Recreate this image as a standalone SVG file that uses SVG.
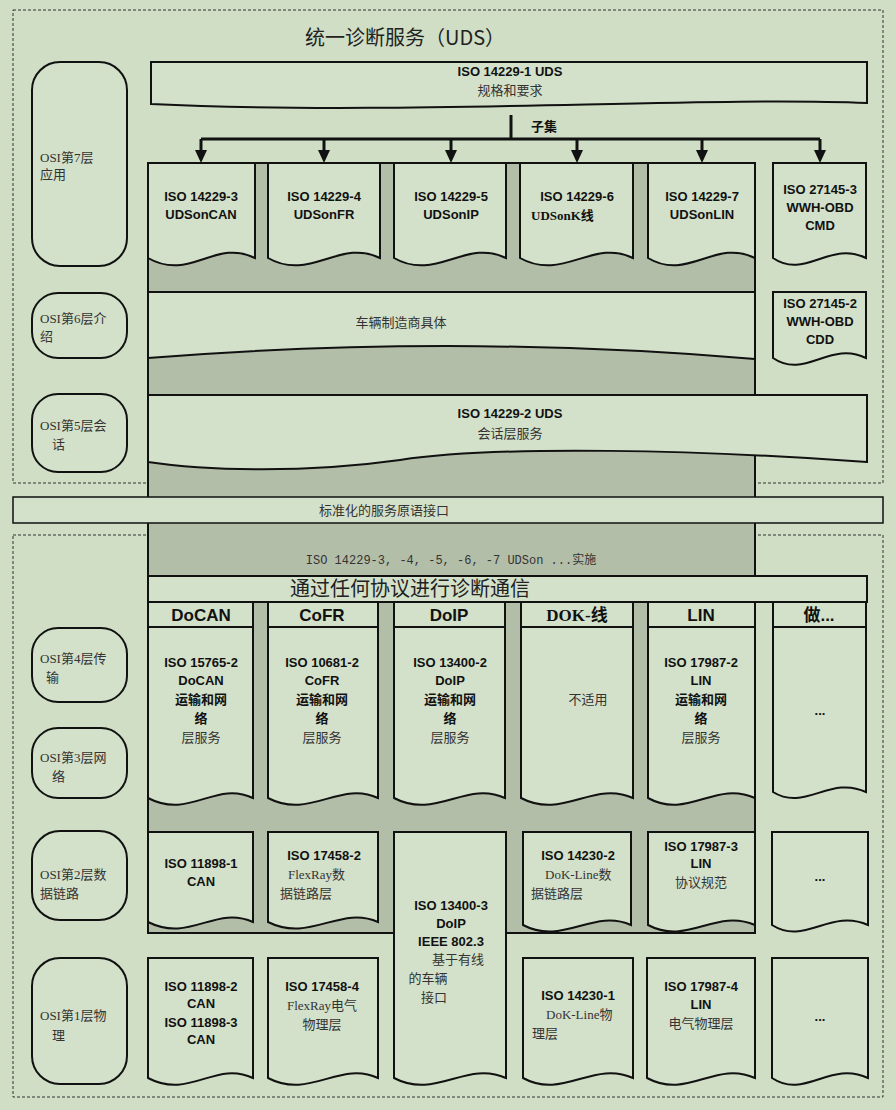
<svg xmlns="http://www.w3.org/2000/svg" width="896" height="1110" viewBox="0 0 896 1110">
<style>
.bg{fill:#cfdec5}
.band{fill:#b3bea8;stroke:#111;stroke-width:2}
.box{fill:#d3e1ca;stroke:#111;stroke-width:2}
.dash{fill:none;stroke:#333;stroke-width:1;stroke-dasharray:3,2}
.osi{fill:#d3e1ca;stroke:#111;stroke-width:2}
.b{font-family:"Liberation Sans","Noto Sans CJK SC",sans-serif;font-weight:bold;font-size:13px;fill:#111;text-anchor:middle}
.n{font-family:"Liberation Sans","Noto Sans CJK SC",sans-serif;font-size:13px;fill:#333;text-anchor:middle}
.s{font-family:"Liberation Serif","Noto Sans CJK SC",serif;font-size:13px;fill:#333}
.h{font-family:"Liberation Sans","Noto Sans CJK SC",sans-serif;font-weight:bold;font-size:17px;fill:#111;text-anchor:middle}
.conn{stroke:#111;stroke-width:3;fill:none}
.ah{fill:#111}
</style>
<rect class="bg" x="0" y="0" width="896" height="1110"/>
<rect class="dash" x="13" y="10" width="870" height="473"/>
<rect class="dash" x="13" y="535" width="870" height="562"/>
<rect class="band" x="148" y="163" width="607" height="770"/>

<text x="305" y="45" style="font-family:'Noto Sans CJK SC',sans-serif;font-size:20px;fill:#222">统一诊断服务（UDS）</text>

<g id="uds1"><path class="box" d="M151,62 H867 V103 C700,96 400,116 151,104 Z"/><text class="b" x="510" y="76">ISO 14229-1 UDS</text><text class="n" x="510" y="95">规格和要求</text></g>

<g id="connectors">
<path class="conn" d="M511,115 V139"/>
<path class="conn" d="M201,139 H820"/>
<path class="conn" d="M201,139 V152"/><polygon class="ah" points="195,150 207,150 201,163"/>
<path class="conn" d="M324,139 V152"/><polygon class="ah" points="318,150 330,150 324,163"/>
<path class="conn" d="M451,139 V152"/><polygon class="ah" points="445,150 457,150 451,163"/>
<path class="conn" d="M577,139 V152"/><polygon class="ah" points="571,150 583,150 577,163"/>
<path class="conn" d="M702,139 V152"/><polygon class="ah" points="696,150 708,150 702,163"/>
<path class="conn" d="M820,139 V152"/><polygon class="ah" points="814,150 826,150 820,163"/>
</g>
<text class="b" x="544" y="131">子集</text>

<g id="osi7"><rect class="osi" x="32" y="62" width="95" height="204" rx="28"/><text class="s" x="40" y="162">OSI第7层</text><text class="s" x="40" y="179">应用</text></g>
<g id="osi6"><rect class="osi" x="32" y="293" width="95" height="65" rx="26"/><text class="s" x="40" y="323">OSI第6层介</text><text class="s" x="40" y="341">绍</text></g>
<g id="osi5"><rect class="osi" x="32" y="394" width="95" height="78" rx="26"/><text class="s" x="40" y="430">OSI第5层会</text><text class="s" x="52" y="449">话</text></g>
<g id="osi4"><rect class="osi" x="32" y="628" width="95" height="74" rx="26"/><text class="s" x="40" y="663">OSI第4层传</text><text class="s" x="46" y="682">输</text></g>
<g id="osi3"><rect class="osi" x="32" y="728" width="95" height="70" rx="26"/><text class="s" x="40" y="762">OSI第3层网</text><text class="s" x="52" y="781">络</text></g>
<g id="osi2"><rect class="osi" x="32" y="831" width="95" height="89" rx="28"/><text class="s" x="40" y="879">OSI第2层数</text><text class="s" x="40" y="898">据链路</text></g>
<g id="osi1"><rect class="osi" x="32" y="958" width="95" height="126" rx="28"/><text class="s" x="40" y="1020">OSI第1层物</text><text class="s" x="52" y="1040">理</text></g>

<g id="d73"><path class="box" d="M148,163 H255 V258 C215,238 190,282 148,258 Z"/><text class="b" x="201" y="201">ISO 14229-3</text><text class="b" x="201" y="219">UDSonCAN</text></g>
<g id="d74"><path class="box" d="M268,163 H380 V258 C340,238 310,282 268,258 Z"/><text class="b" x="324" y="201">ISO 14229-4</text><text class="b" x="324" y="219">UDSonFR</text></g>
<g id="d75"><path class="box" d="M394,163 H506 V258 C466,238 436,282 394,258 Z"/><text class="b" x="451" y="201">ISO 14229-5</text><text class="b" x="451" y="219">UDSonIP</text></g>
<g id="d76"><path class="box" d="M520,163 H633 V258 C593,238 563,282 520,258 Z"/><text class="b" x="577" y="201">ISO 14229-6</text><text class="b" x="531" y="220" style="text-anchor:start;font-family:'Liberation Serif','Noto Sans CJK SC',serif">UDSonK线</text></g>
<g id="d77"><path class="box" d="M648,163 H755 V258 C715,238 688,282 648,258 Z"/><text class="b" x="702" y="201">ISO 14229-7</text><text class="b" x="702" y="219">UDSonLIN</text></g>
<g id="d273"><path class="box" d="M773,163 H866 V258 C830,240 805,280 773,258 Z"/><text class="b" x="820" y="194">ISO 27145-3</text><text class="b" x="820" y="212">WWH-OBD</text><text class="b" x="820" y="230">CMD</text></g>
<g id="d272"><path class="box" d="M773,292 H866 V358 C830,340 805,380 773,358 Z"/><text class="b" x="820" y="308">ISO 27145-2</text><text class="b" x="820" y="326">WWH-OBD</text><text class="b" x="820" y="344">CDD</text></g>

<g id="l6"><path class="box" d="M148,292 H755 V359 C600,346 400,338 148,358 Z"/><text class="n" x="401" y="327">车辆制造商具体</text></g>
<g id="l5"><path class="box" d="M148,395 H867 V462 C700,450 500,445 400,460 C300,474 200,470 148,462 Z"/><text class="b" x="510" y="418">ISO 14229-2 UDS</text><text class="n" x="510" y="438">会话层服务</text></g>

<g id="iface"><rect class="box" x="13" y="497" width="870" height="26" style="stroke-width:1.5"/><text class="n" x="384" y="515">标准化的服务原语接口</text></g>

<text x="451" y="564" style="font-family:'Liberation Mono','Noto Sans CJK SC',monospace;font-size:12px;fill:#333;text-anchor:middle">ISO 14229-3, -4, -5, -6, -7 UDSon ...实施</text>

<g id="anyproto"><rect class="box" x="148" y="576" width="719" height="26"/><text x="410" y="596" style="font-family:'Noto Sans CJK SC',sans-serif;font-size:20px;fill:#222;text-anchor:middle">通过任何协议进行诊断通信</text></g>

<g id="hDoCAN"><rect class="box" x="148" y="602" width="105" height="25"/><text class="h" x="201" y="621">DoCAN</text></g>
<g id="hCoFR"><rect class="box" x="268" y="602" width="110" height="25"/><text class="h" x="322" y="621">CoFR</text></g>
<g id="hDoIP"><rect class="box" x="394" y="602" width="111" height="25"/><text class="h" x="449" y="621">DoIP</text></g>
<g id="hDOK"><rect class="box" x="521" y="602" width="112" height="25"/><text class="h" x="577" y="621" style="font-family:'Liberation Serif','Noto Sans CJK SC',serif">DOK-线</text></g>
<g id="hLIN"><rect class="box" x="648" y="602" width="107" height="25"/><text class="h" x="701" y="621">LIN</text></g>
<g id="hDo"><rect class="box" x="773" y="602" width="93" height="25"/><text class="h" x="819" y="621">做...</text></g>

<g id="t1"><path class="box" d="M148,627 H253 V798 C215,780 190,820 148,798 Z"/><text class="b" x="201" y="667">ISO 15765-2</text><text class="b" x="201" y="685">DoCAN</text><text class="b" x="201" y="704">运输和网</text><text class="b" x="201" y="723">络</text><text class="n" x="201" y="742">层服务</text></g>
<g id="t2"><path class="box" d="M268,627 H378 V798 C340,780 310,820 268,798 Z"/><text class="b" x="322" y="667">ISO 10681-2</text><text class="b" x="322" y="685">CoFR</text><text class="b" x="322" y="704">运输和网</text><text class="b" x="322" y="723">络</text><text class="n" x="322" y="742">层服务</text></g>
<g id="t3"><path class="box" d="M394,627 H505 V798 C466,780 436,820 394,798 Z"/><text class="b" x="450" y="667">ISO 13400-2</text><text class="b" x="450" y="685">DoIP</text><text class="b" x="450" y="704">运输和网</text><text class="b" x="450" y="723">络</text><text class="n" x="450" y="742">层服务</text></g>
<g id="t4"><path class="box" d="M521,627 H633 V798 C593,780 563,820 521,798 Z"/><text class="n" x="588" y="704">不适用</text></g>
<g id="t5"><path class="box" d="M648,627 H755 V798 C715,780 688,820 648,798 Z"/><text class="b" x="701" y="667">ISO 17987-2</text><text class="b" x="701" y="685">LIN</text><text class="b" x="701" y="704">运输和网</text><text class="b" x="701" y="723">络</text><text class="n" x="701" y="742">层服务</text></g>
<g id="t6"><path class="box" d="M773,627 H866 V792 C830,775 805,812 773,792 Z"/><text class="b" x="820" y="715">...</text></g>

<g id="k1"><path class="box" d="M148,832 H253 V922 C215,905 190,943 148,922 Z"/><text class="b" x="201" y="868">ISO 11898-1</text><text class="b" x="201" y="886">CAN</text></g>
<g id="k2"><path class="box" d="M268,832 H378 V922 C340,905 310,943 268,922 Z"/><text class="b" x="324" y="860">ISO 17458-2</text><text class="s" x="288" y="879">FlexRay数</text><text class="n" x="306" y="898">据链路层</text></g>
<g id="k3"><path class="box" d="M394,832 H506 V1078 C466,1060 436,1100 394,1078 Z"/><text class="b" x="451" y="910">ISO 13400-3</text><text class="b" x="451" y="928">DoIP</text><text class="b" x="451" y="946">IEEE 802.3</text><text class="n" x="458" y="964">基于有线</text><text class="n" x="428" y="983">的车辆</text><text class="n" x="434" y="1002">接口</text></g>
<g id="k4"><path class="box" d="M523,832 H631 V925 C593,908 563,946 523,925 Z"/><text class="b" x="578" y="860">ISO 14230-2</text><text class="s" x="545" y="879">DoK-Line数</text><text class="n" x="557" y="898">据链路层</text></g>
<g id="k5"><path class="box" d="M648,832 H755 V925 C715,908 688,946 648,925 Z"/><text class="b" x="701" y="851">ISO 17987-3</text><text class="b" x="701" y="868">LIN</text><text class="n" x="701" y="887">协议规范</text></g>
<g id="k6"><path class="box" d="M772,832 H868 V925 C830,908 805,946 772,925 Z"/><text class="b" x="820" y="881">...</text></g>

<g id="p1"><path class="box" d="M148,958 H253 V1078 C215,1060 190,1100 148,1078 Z"/><text class="b" x="201" y="991">ISO 11898-2</text><text class="b" x="201" y="1008">CAN</text><text class="b" x="201" y="1027">ISO 11898-3</text><text class="b" x="201" y="1044">CAN</text></g>
<g id="p2"><path class="box" d="M268,958 H378 V1078 C340,1060 310,1100 268,1078 Z"/><text class="b" x="322" y="991">ISO 17458-4</text><text class="s" x="322" y="1010" style="text-anchor:middle">FlexRay电气</text><text class="n" x="322" y="1029">物理层</text></g>
<g id="p3"><path class="box" d="M523,958 H633 V1078 C593,1060 563,1100 523,1078 Z"/><text class="b" x="578" y="1000">ISO 14230-1</text><text class="s" x="546" y="1019">DoK-Line物</text><text class="n" x="545" y="1038">理层</text></g>
<g id="p4"><path class="box" d="M647,958 H755 V1078 C715,1060 688,1100 647,1078 Z"/><text class="b" x="701" y="991">ISO 17987-4</text><text class="b" x="701" y="1009">LIN</text><text class="n" x="701" y="1028">电气物理层</text></g>
<g id="p5"><path class="box" d="M772,958 H868 V1078 C830,1060 805,1100 772,1078 Z"/><text class="b" x="820" y="1021">...</text></g>
</svg>
